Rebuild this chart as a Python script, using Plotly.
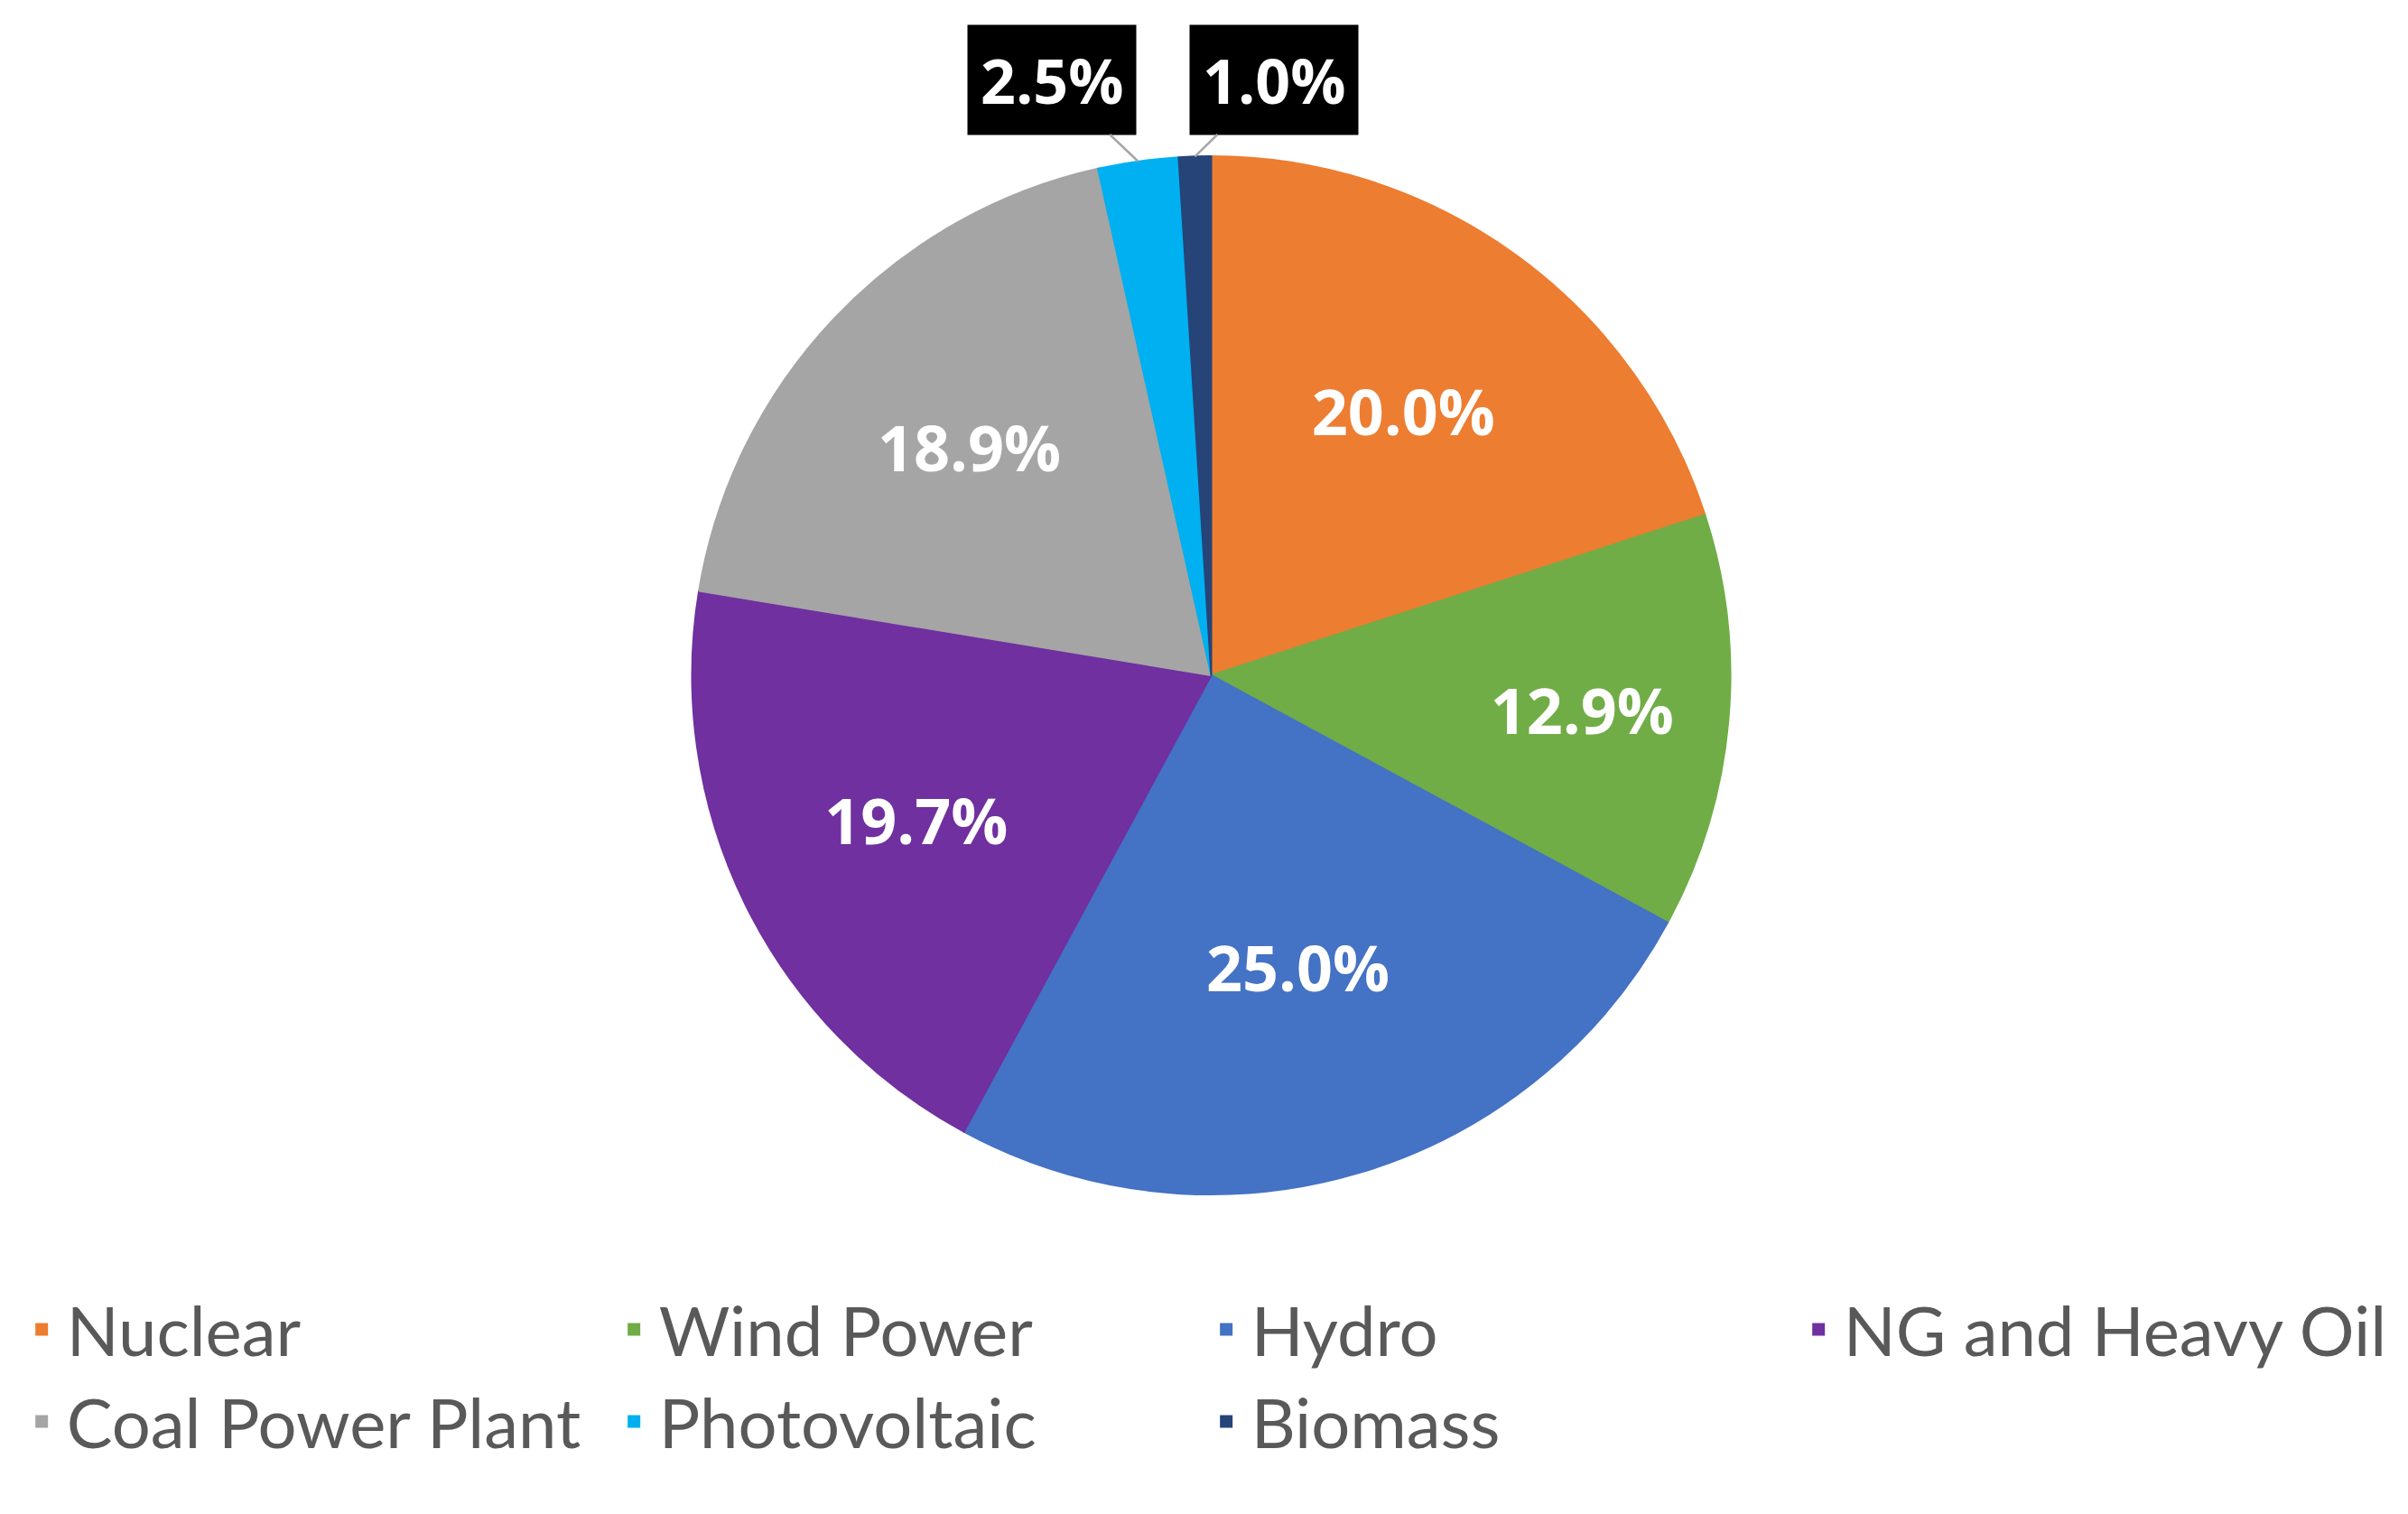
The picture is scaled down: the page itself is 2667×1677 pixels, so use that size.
import math
import plotly.graph_objects as go

# ---- data ----
labels = ["Nuclear", "Wind Power", "Hydro", "NG and Heavy Oil",
          "Coal Power Plant", "Photovoltaic", "Biomass"]
values = [20.0, 12.9, 25.0, 19.7, 18.9, 2.5, 1.0]
colors = ["#ED7D31", "#70AD47", "#4472C4", "#7030A0",
          "#A5A5A5", "#00B0F0", "#264478"]
callout_labels = ["Photovoltaic", "Biomass"]   # labelled outside in black boxes

# ---- layout constants ----
W, H = 2667, 1677
cy_px = 740            # pie centre from top (px)
r_px = 575             # pie radius (px)
dom_y0 = (H - cy_px - r_px) / H
dom_y1 = (H - cy_px + r_px) / H

texts = ["" if l in callout_labels else f"{v:.1f}%" for l, v in zip(labels, values)]

fig = go.Figure()
fig.add_trace(go.Pie(
    labels=labels, values=values, text=texts,
    textinfo="text", texttemplate="%{text}",
    textposition="inside", insidetextorientation="horizontal",
    sort=False, direction="clockwise", rotation=0,
    marker=dict(colors=colors, line=dict(color=colors, width=2)),
    textfont=dict(family="Open Sans", size=70, color="white", weight="bold"),
    domain=dict(x=[0, 1], y=[dom_y0, dom_y1]),
    showlegend=True, hoverinfo="label+percent",
))

# callout annotations for small slices
label_pos = {"Photovoltaic": (1157, 80), "Biomass": (1403, 80)}
total = sum(values)
cum = 0.0
for lab, v in zip(labels, values):
    mid = (cum + v / 2) / total * 2 * math.pi
    cum += v
    if lab not in callout_labels:
        continue
    tip_x_px = W / 2 + r_px * math.sin(mid)
    tip_y_px = cy_px - r_px * math.cos(mid)
    lx, ly = label_pos[lab]
    fig.add_annotation(
        x=tip_x_px / W, y=1 - tip_y_px / H, xref="paper", yref="paper",
        ax=lx - tip_x_px, ay=ly - tip_y_px, axref="pixel", ayref="pixel",
        text=f"<b>{v:.1f}%</b>", showarrow=True, arrowhead=0,
        arrowwidth=2.5, arrowcolor="#A6A6A6",
        font=dict(family="Open Sans", size=68, color="white"),
        bgcolor="black", borderpad=14,
    )

fig.update_layout(
    width=W, height=H,
    margin=dict(l=0, r=0, t=0, b=0),
    paper_bgcolor="white", plot_bgcolor="white",
    legend=dict(
        orientation="h", x=0.004, xanchor="left", y=0.16, yanchor="top",
        entrywidth=596, entrywidthmode="pixels",
        font=dict(family="Lato", size=76, color="#595959"),
        itemwidth=45, traceorder="normal",
    ),
)

fig.write_html("out.html")
